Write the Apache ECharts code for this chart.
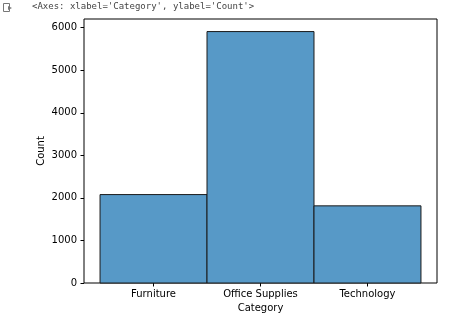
<!DOCTYPE html>
<html>
<head>
<meta charset="utf-8">
<script src="https://cdn.jsdelivr.net/npm/echarts@6/dist/echarts.min.js"></script>
<style>
html,body{margin:0;padding:0;background:#fff;}
#chart{width:458px;height:324px;}
</style>
</head>
<body>
<div id="chart"></div>
<script>
const categories = ['Furniture', 'Office Supplies', 'Technology'];
const counts = [2078, 5909, 1813];
const yTicks = [0, 1000, 2000, 3000, 4000, 5000, 6000];
const xTicks = [0, 1, 2];

const chart = echarts.init(document.getElementById('chart'), null, {renderer: 'canvas'});
const data = categories.map((c, i) => [i, counts[i]]);
const yMax = Math.max(...counts) * 1.05;
const font = 'DejaVu Sans';

chart.setOption({
  animation: false,
  backgroundColor: '#fff',
  graphic: [
    {type: 'rect', shape: {x: 3.5, y: 3.5, width: 6, height: 8}, style: {fill: 'none', stroke: '#777', lineWidth: 1}},
    {type: 'polygon', shape: {points: [[8, 6], [12, 8], [8, 10]]}, style: {fill: '#777'}},
    {type: 'text', left: 32, top: 2, style: {text: "<Axes: xlabel='Category', ylabel='Count'>", font: '9px "DejaVu Sans Mono"', fill: '#444'}}
  ],
  grid: {left: 84, right: 21, top: 19, bottom: 41, show: true, borderColor: '#000', borderWidth: 1, backgroundColor: 'transparent'},
  xAxis: {
    type: 'value', min: -0.65, max: 2.65,
    name: 'Category', nameLocation: 'middle', nameGap: 20,
    nameTextStyle: {fontFamily: font, fontSize: 10, color: '#000'},
    axisLine: {show: false, onZero: false},
    splitLine: {show: false},
    axisTick: {show: true, customValues: xTicks, length: 3.5, inside: false, lineStyle: {color: '#000', width: 1}},
    axisLabel: {customValues: xTicks, margin: 6, fontFamily: font, fontSize: 10, color: '#000',
      formatter: v => categories[Math.round(v)]}
  },
  yAxis: {
    type: 'value', min: 0, max: yMax,
    name: 'Count', nameLocation: 'middle', nameGap: 38, nameRotate: 90, nameMoveOverlap: false,
    nameTextStyle: {fontFamily: font, fontSize: 10, color: '#000'},
    axisLine: {show: false, onZero: false},
    splitLine: {show: false},
    axisTick: {show: true, customValues: yTicks, length: 3.5, lineStyle: {color: '#000', width: 1}},
    axisLabel: {customValues: yTicks, margin: 7, fontFamily: font, fontSize: 10, color: '#000',
      formatter: v => String(v)}
  },
  series: [{
    type: 'custom',
    data: data,
    encode: {x: 0, y: 1},
    renderItem: function (params, api) {
      const p0 = api.coord([api.value(0) - 0.5, api.value(1)]);
      const p1 = api.coord([api.value(0) + 0.5, 0]);
      return {
        type: 'rect',
        shape: {x: p0[0], y: p0[1], width: p1[0] - p0[0], height: p1[1] - p0[1]},
        style: {fill: '#5799c7', stroke: '#1a1a1a', lineWidth: 1}
      };
    }
  }]
});
</script>
</body>
</html>
